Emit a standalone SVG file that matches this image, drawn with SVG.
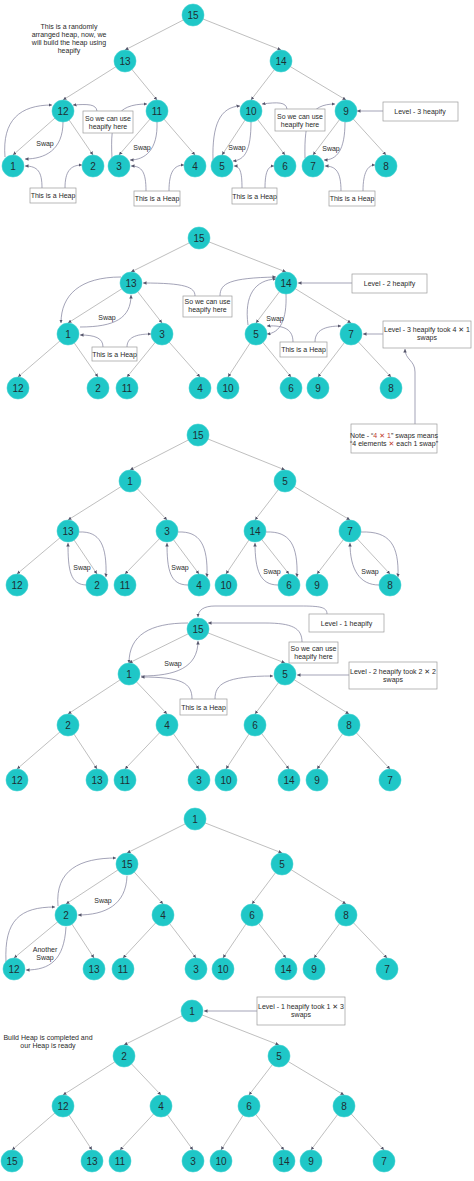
<svg xmlns="http://www.w3.org/2000/svg" width="474" height="1181" viewBox="0 0 474 1181">
<style>
.bg{fill:#fff}
.n circle{fill:#1fc7c7;stroke:#3fd2d2;stroke-width:0.6}
.n text{font-family:"Liberation Sans",Arial,sans-serif;font-size:10px;fill:#1e2f33;text-anchor:middle}
.e line{stroke:#a3a3a3;stroke-width:0.7;fill:none}
.c path{stroke:#7b7b98;stroke-width:0.7;fill:none}
.box rect{fill:#fff;stroke:#9a9a9a;stroke-width:0.7}
.t{font-family:"Liberation Sans",Arial,"DejaVu Sans",sans-serif;font-size:7px;fill:#2a2a2a;text-anchor:middle}
.red{fill:#c0392b}
</style>
<defs>
<marker id="a" viewBox="0 0 6 6" refX="6" refY="3" markerWidth="3.5" markerHeight="3.5" markerUnits="userSpaceOnUse" orient="auto"><path d="M0,0 L6,3 L0,6 z" fill="#55556a"/></marker>
</defs>
<rect class="bg" width="474" height="1181"/>
<g id="connectors">
<g class="e">
<line x1="193" y1="15" x2="125" y2="50" marker-end="url(#a)"/>
<line x1="193" y1="15" x2="281" y2="50" marker-end="url(#a)"/>
<line x1="125" y1="61" x2="63" y2="100" marker-end="url(#a)"/>
<line x1="125" y1="61" x2="157" y2="100" marker-end="url(#a)"/>
<line x1="281" y1="61" x2="251" y2="100" marker-end="url(#a)"/>
<line x1="281" y1="61" x2="346" y2="100" marker-end="url(#a)"/>
<line x1="63" y1="111" x2="13" y2="155" marker-end="url(#a)"/>
<line x1="63" y1="111" x2="93" y2="155" marker-end="url(#a)"/>
<line x1="157" y1="111" x2="119" y2="155" marker-end="url(#a)"/>
<line x1="157" y1="111" x2="195" y2="155" marker-end="url(#a)"/>
<line x1="251" y1="111" x2="222" y2="155" marker-end="url(#a)"/>
<line x1="251" y1="111" x2="285" y2="155" marker-end="url(#a)"/>
<line x1="346" y1="111" x2="313" y2="155" marker-end="url(#a)"/>
<line x1="346" y1="111" x2="386" y2="155" marker-end="url(#a)"/>
<line x1="199" y1="238" x2="131" y2="272" marker-end="url(#a)"/>
<line x1="199" y1="238" x2="286" y2="272" marker-end="url(#a)"/>
<line x1="131" y1="283" x2="68" y2="323" marker-end="url(#a)"/>
<line x1="131" y1="283" x2="162" y2="323" marker-end="url(#a)"/>
<line x1="286" y1="283" x2="256" y2="323" marker-end="url(#a)"/>
<line x1="286" y1="283" x2="351" y2="323" marker-end="url(#a)"/>
<line x1="68" y1="334" x2="18" y2="377" marker-end="url(#a)"/>
<line x1="68" y1="334" x2="98" y2="377" marker-end="url(#a)"/>
<line x1="162" y1="334" x2="127" y2="377" marker-end="url(#a)"/>
<line x1="162" y1="334" x2="200" y2="377" marker-end="url(#a)"/>
<line x1="256" y1="334" x2="228" y2="377" marker-end="url(#a)"/>
<line x1="256" y1="334" x2="291" y2="377" marker-end="url(#a)"/>
<line x1="351" y1="334" x2="318" y2="377" marker-end="url(#a)"/>
<line x1="351" y1="334" x2="391" y2="377" marker-end="url(#a)"/>
<line x1="198" y1="435" x2="130" y2="470" marker-end="url(#a)"/>
<line x1="198" y1="435" x2="285" y2="470" marker-end="url(#a)"/>
<line x1="130" y1="481" x2="68" y2="520" marker-end="url(#a)"/>
<line x1="130" y1="481" x2="167" y2="520" marker-end="url(#a)"/>
<line x1="285" y1="481" x2="255" y2="520" marker-end="url(#a)"/>
<line x1="285" y1="481" x2="350" y2="520" marker-end="url(#a)"/>
<line x1="68" y1="531" x2="17" y2="574" marker-end="url(#a)"/>
<line x1="68" y1="531" x2="97" y2="574" marker-end="url(#a)"/>
<line x1="167" y1="531" x2="125" y2="574" marker-end="url(#a)"/>
<line x1="167" y1="531" x2="199" y2="574" marker-end="url(#a)"/>
<line x1="255" y1="531" x2="226" y2="574" marker-end="url(#a)"/>
<line x1="255" y1="531" x2="289" y2="574" marker-end="url(#a)"/>
<line x1="350" y1="531" x2="317" y2="574" marker-end="url(#a)"/>
<line x1="350" y1="531" x2="390" y2="574" marker-end="url(#a)"/>
<line x1="198" y1="629" x2="129" y2="663" marker-end="url(#a)"/>
<line x1="198" y1="629" x2="285" y2="663" marker-end="url(#a)"/>
<line x1="129" y1="674" x2="68" y2="714" marker-end="url(#a)"/>
<line x1="129" y1="674" x2="167" y2="714" marker-end="url(#a)"/>
<line x1="285" y1="674" x2="255" y2="714" marker-end="url(#a)"/>
<line x1="285" y1="674" x2="349" y2="714" marker-end="url(#a)"/>
<line x1="68" y1="725" x2="17" y2="769" marker-end="url(#a)"/>
<line x1="68" y1="725" x2="97" y2="769" marker-end="url(#a)"/>
<line x1="167" y1="725" x2="125" y2="769" marker-end="url(#a)"/>
<line x1="167" y1="725" x2="199" y2="769" marker-end="url(#a)"/>
<line x1="255" y1="725" x2="226" y2="769" marker-end="url(#a)"/>
<line x1="255" y1="725" x2="289" y2="769" marker-end="url(#a)"/>
<line x1="349" y1="725" x2="317" y2="769" marker-end="url(#a)"/>
<line x1="349" y1="725" x2="390" y2="769" marker-end="url(#a)"/>
<line x1="195" y1="819" x2="127" y2="853" marker-end="url(#a)"/>
<line x1="195" y1="819" x2="282" y2="853" marker-end="url(#a)"/>
<line x1="127" y1="864" x2="66" y2="904" marker-end="url(#a)"/>
<line x1="127" y1="864" x2="163" y2="904" marker-end="url(#a)"/>
<line x1="282" y1="864" x2="252" y2="904" marker-end="url(#a)"/>
<line x1="282" y1="864" x2="346" y2="904" marker-end="url(#a)"/>
<line x1="66" y1="915" x2="14" y2="958" marker-end="url(#a)"/>
<line x1="66" y1="915" x2="94" y2="958" marker-end="url(#a)"/>
<line x1="163" y1="915" x2="123" y2="958" marker-end="url(#a)"/>
<line x1="163" y1="915" x2="196" y2="958" marker-end="url(#a)"/>
<line x1="252" y1="915" x2="223" y2="958" marker-end="url(#a)"/>
<line x1="252" y1="915" x2="286" y2="958" marker-end="url(#a)"/>
<line x1="346" y1="915" x2="314" y2="958" marker-end="url(#a)"/>
<line x1="346" y1="915" x2="387" y2="958" marker-end="url(#a)"/>
<line x1="192" y1="1011" x2="124" y2="1045" marker-end="url(#a)"/>
<line x1="192" y1="1011" x2="279" y2="1045" marker-end="url(#a)"/>
<line x1="124" y1="1056" x2="63" y2="1095" marker-end="url(#a)"/>
<line x1="124" y1="1056" x2="161" y2="1095" marker-end="url(#a)"/>
<line x1="279" y1="1056" x2="249" y2="1095" marker-end="url(#a)"/>
<line x1="279" y1="1056" x2="344" y2="1095" marker-end="url(#a)"/>
<line x1="63" y1="1106" x2="12" y2="1150" marker-end="url(#a)"/>
<line x1="63" y1="1106" x2="92" y2="1150" marker-end="url(#a)"/>
<line x1="161" y1="1106" x2="120" y2="1150" marker-end="url(#a)"/>
<line x1="161" y1="1106" x2="193" y2="1150" marker-end="url(#a)"/>
<line x1="249" y1="1106" x2="221" y2="1150" marker-end="url(#a)"/>
<line x1="249" y1="1106" x2="284" y2="1150" marker-end="url(#a)"/>
<line x1="344" y1="1106" x2="311" y2="1150" marker-end="url(#a)"/>
<line x1="344" y1="1106" x2="384" y2="1150" marker-end="url(#a)"/>
</g>
<g class="c">
<path d="M5,157 C2,120 20,105 52,105" marker-end="url(#a)"/>
<path d="M63,122 C63,150 45,159 25,159" marker-end="url(#a)"/>
<path d="M97,111 C96,104 88,104 73,105" marker-end="url(#a)"/>
<path d="M112,158 C110,120 115,104 147,104" marker-end="url(#a)"/>
<path d="M157,122 C158,150 145,160 130,160" marker-end="url(#a)"/>
<path d="M213,160 C212,125 220,107 240,106" marker-end="url(#a)"/>
<path d="M251,122 C251,150 245,160 233,161" marker-end="url(#a)"/>
<path d="M287,109 C286,102 278,102 262,104" marker-end="url(#a)"/>
<path d="M305,158 C304,120 310,104 335,104" marker-end="url(#a)"/>
<path d="M345,122 C345,150 337,160 324,160" marker-end="url(#a)"/>
<path d="M383,111 L357,111" marker-end="url(#a)"/>
<path d="M42,188 C42,172 38,166 25,166" marker-end="url(#a)"/>
<path d="M65,188 C65,172 70,165 82,165" marker-end="url(#a)"/>
<path d="M146,191 C146,172 142,166 131,166" marker-end="url(#a)"/>
<path d="M169,191 C169,172 174,165 184,165" marker-end="url(#a)"/>
<path d="M242,188 C242,172 240,166 234,166" marker-end="url(#a)"/>
<path d="M265,188 C265,172 268,166 274,166" marker-end="url(#a)"/>
<path d="M341,191 C341,172 336,166 325,166" marker-end="url(#a)"/>
<path d="M363,191 C363,172 368,165 375,165" marker-end="url(#a)"/>
<path d="M121,277 C80,277 61,295 61,323" marker-end="url(#a)"/>
<path d="M80,327 C115,327 131,318 131,295" marker-end="url(#a)"/>
<path d="M195,296 C195,287 185,283 143,283" marker-end="url(#a)"/>
<path d="M220,296 C220,283 230,278 276,277" marker-end="url(#a)"/>
<path d="M248,325 C244,295 255,280 276,279" marker-end="url(#a)"/>
<path d="M286,294 C287,320 280,333 267,334" marker-end="url(#a)"/>
<path d="M293,342 C293,330 285,325 267,326" marker-end="url(#a)"/>
<path d="M315,342 C315,330 325,326 341,326" marker-end="url(#a)"/>
<path d="M103,347 C103,338 95,335 80,335" marker-end="url(#a)"/>
<path d="M127,347 C127,338 135,334 151,334" marker-end="url(#a)"/>
<path d="M352,283 L298,283" marker-end="url(#a)"/>
<path d="M383,334 L363,334" marker-end="url(#a)"/>
<path d="M415,424 L415,372 C415,360 405,360 405,349" marker-end="url(#a)"/>
<path d="M79,532 C100,531 107,545 106,577" marker-end="url(#a)"/>
<path d="M87,585 C70,585 68,570 68,543" marker-end="url(#a)"/>
<path d="M178,532 C200,531 208,545 207,577" marker-end="url(#a)"/>
<path d="M188,585 C170,585 167,570 167,543" marker-end="url(#a)"/>
<path d="M266,532 C290,531 298,545 297,577" marker-end="url(#a)"/>
<path d="M278,585 C260,585 255,570 255,543" marker-end="url(#a)"/>
<path d="M361,532 C390,531 399,545 398,577" marker-end="url(#a)"/>
<path d="M379,585 C360,585 350,570 350,543" marker-end="url(#a)"/>
<path d="M327,614 C327,607 320,606 300,606 L215,606 C204,606 198,610 198,617" marker-end="url(#a)"/>
<path d="M302,642 C302,628 292,623 265,623 L208,623" marker-end="url(#a)"/>
<path d="M188,623 C150,623 129,635 129,663" marker-end="url(#a)"/>
<path d="M141,676 C175,676 198,668 198,641" marker-end="url(#a)"/>
<path d="M192,699 C192,683 182,677 141,677" marker-end="url(#a)"/>
<path d="M215,699 C215,684 225,676 273,676" marker-end="url(#a)"/>
<path d="M349,675 L297,675" marker-end="url(#a)"/>
<path d="M58,906 C55,870 80,858 116,858" marker-end="url(#a)"/>
<path d="M127,876 C126,905 105,915 78,915" marker-end="url(#a)"/>
<path d="M6,962 C4,920 20,907 55,907" marker-end="url(#a)"/>
<path d="M66,927 C64,960 50,970 26,970" marker-end="url(#a)"/>
<path d="M257,1011 L204,1011" marker-end="url(#a)"/>
</g>
</g>
<g id="b1" class="box"><rect x="83" y="111" width="50" height="22"/><text class="t" x="108" y="120.5">So we can use</text><text class="t" x="108" y="128.5">heapify here</text></g>
<g id="b2" class="box"><rect x="275" y="109" width="50" height="22"/><text class="t" x="300" y="118.5">So we can use</text><text class="t" x="300" y="126.5">heapify here</text></g>
<g id="b3" class="box"><rect x="383" y="102" width="75" height="19"/><text class="t" x="420" y="113.5">Level - 3 heapify</text></g>
<g id="b4" class="box"><rect x="30" y="188" width="46" height="15"/><text class="t" x="53" y="198">This is a Heap</text></g>
<g id="b5" class="box"><rect x="134" y="191" width="46" height="15"/><text class="t" x="157" y="201">This is a Heap</text></g>
<g id="b6" class="box"><rect x="232" y="188" width="45" height="16"/><text class="t" x="254.5" y="198.5">This is a Heap</text></g>
<g id="b7" class="box"><rect x="329" y="191" width="46" height="15"/><text class="t" x="352" y="201">This is a Heap</text></g>
<g id="b8" class="box"><rect x="183" y="296" width="49" height="21"/><text class="t" x="207.5" y="303.5">So we can use</text><text class="t" x="207.5" y="311.5">heapify here</text></g>
<g id="b9" class="box"><rect x="92" y="347" width="45" height="14"/><text class="t" x="114.5" y="356.5">This is a Heap</text></g>
<g id="b10" class="box"><rect x="280" y="342" width="47" height="15"/><text class="t" x="303.5" y="352">This is a Heap</text></g>
<g id="b11" class="box"><rect x="352" y="274" width="75" height="19"/><text class="t" x="389.5" y="286">Level - 2 heapify</text></g>
<g id="b12" class="box"><rect x="383" y="321" width="88" height="27"/><text class="t" x="427" y="331.5">Level - 3 heapify took 4 ✕ 1</text><text class="t" x="427" y="339.5">swaps</text></g>
<g id="b13" class="box"><rect x="351" y="424" width="86" height="29"/><text class="t" x="394" y="437.5">Note - “<tspan class="red">4 ✕ 1</tspan>” swaps means</text><text class="t" x="394" y="445.5">“4 elements <tspan class="red">✕</tspan> each 1 swap”</text></g>
<g id="b14" class="box"><rect x="309" y="614" width="75" height="18"/><text class="t" x="346.5" y="625.5">Level - 1 heapify</text></g>
<g id="b15" class="box"><rect x="289" y="642" width="49" height="21"/><text class="t" x="313.5" y="650.5">So we can use</text><text class="t" x="313.5" y="658.5">heapify here</text></g>
<g id="b16" class="box"><rect x="349" y="662" width="88" height="27"/><text class="t" x="393" y="673.5">Level - 2 heapify took 2 ✕ 2</text><text class="t" x="393" y="681.5">swaps</text></g>
<g id="b17" class="box"><rect x="180" y="699" width="47" height="16"/><text class="t" x="203.5" y="709.5">This is a Heap</text></g>
<g id="b18" class="box"><rect x="257" y="997" width="88" height="28"/><text class="t" x="301" y="1008.5">Level - 1 heapify took 1 ✕ 3</text><text class="t" x="301" y="1016.5">swaps</text></g>
<g id="note1"><text class="t" x="69" y="28.5">This is a randomly</text><text class="t" x="69" y="36.5">arranged heap, now, we</text><text class="t" x="69" y="44.5">will build the heap using</text><text class="t" x="69" y="53">heapify</text></g>
<g id="swaps">
<text class="t" x="45" y="145.5">Swap</text>
<text class="t" x="142" y="149.5">Swap</text>
<text class="t" x="237" y="149.5">Swap</text>
<text class="t" x="331" y="150.5">Swap</text>
<text class="t" x="107" y="319.5">Swap</text>
<text class="t" x="275" y="320.5">Swap</text>
<text class="t" x="82" y="569.5">Swap</text>
<text class="t" x="180" y="569.5">Swap</text>
<text class="t" x="272" y="573.5">Swap</text>
<text class="t" x="370" y="573.5">Swap</text>
<text class="t" x="173" y="665.5">Swap</text>
<text class="t" x="103" y="902.5">Swap</text>
<text class="t" x="45" y="951.5">Another</text>
<text class="t" x="45" y="959.5">Swap</text>
</g>
<g id="note6"><text class="t" x="48" y="1039.5">Build Heap is completed and</text><text class="t" x="48" y="1048">our Heap is ready</text></g>
<g id="s1-15" class="n"><circle cx="193" cy="15" r="11"/><text x="193" y="18.5">15</text></g>
<g id="s1-13" class="n"><circle cx="125" cy="61" r="11"/><text x="125" y="64.5">13</text></g>
<g id="s1-14" class="n"><circle cx="281" cy="61" r="11"/><text x="281" y="64.5">14</text></g>
<g id="s1-12" class="n"><circle cx="63" cy="111" r="11"/><text x="63" y="114.5">12</text></g>
<g id="s1-11" class="n"><circle cx="157" cy="111" r="11"/><text x="157" y="114.5">11</text></g>
<g id="s1-10" class="n"><circle cx="251" cy="111" r="11"/><text x="251" y="114.5">10</text></g>
<g id="s1-9" class="n"><circle cx="346" cy="111" r="11"/><text x="346" y="114.5">9</text></g>
<g id="s1-1" class="n"><circle cx="13" cy="166" r="11"/><text x="13" y="169.5">1</text></g>
<g id="s1-2" class="n"><circle cx="93" cy="166" r="11"/><text x="93" y="169.5">2</text></g>
<g id="s1-3" class="n"><circle cx="119" cy="166" r="11"/><text x="119" y="169.5">3</text></g>
<g id="s1-4" class="n"><circle cx="195" cy="166" r="11"/><text x="195" y="169.5">4</text></g>
<g id="s1-5" class="n"><circle cx="222" cy="166" r="11"/><text x="222" y="169.5">5</text></g>
<g id="s1-6" class="n"><circle cx="285" cy="166" r="11"/><text x="285" y="169.5">6</text></g>
<g id="s1-7" class="n"><circle cx="313" cy="166" r="11"/><text x="313" y="169.5">7</text></g>
<g id="s1-8" class="n"><circle cx="386" cy="166" r="11"/><text x="386" y="169.5">8</text></g>
<g id="s2-15" class="n"><circle cx="199" cy="238" r="11"/><text x="199" y="241.5">15</text></g>
<g id="s2-13" class="n"><circle cx="131" cy="283" r="11"/><text x="131" y="286.5">13</text></g>
<g id="s2-14" class="n"><circle cx="286" cy="283" r="11"/><text x="286" y="286.5">14</text></g>
<g id="s2-1" class="n"><circle cx="68" cy="334" r="11"/><text x="68" y="337.5">1</text></g>
<g id="s2-3" class="n"><circle cx="162" cy="334" r="11"/><text x="162" y="337.5">3</text></g>
<g id="s2-5" class="n"><circle cx="256" cy="334" r="11"/><text x="256" y="337.5">5</text></g>
<g id="s2-7" class="n"><circle cx="351" cy="334" r="11"/><text x="351" y="337.5">7</text></g>
<g id="s2-12" class="n"><circle cx="18" cy="388" r="11"/><text x="18" y="391.5">12</text></g>
<g id="s2-2" class="n"><circle cx="98" cy="388" r="11"/><text x="98" y="391.5">2</text></g>
<g id="s2-11" class="n"><circle cx="127" cy="388" r="11"/><text x="127" y="391.5">11</text></g>
<g id="s2-4" class="n"><circle cx="200" cy="388" r="11"/><text x="200" y="391.5">4</text></g>
<g id="s2-10" class="n"><circle cx="228" cy="388" r="11"/><text x="228" y="391.5">10</text></g>
<g id="s2-6" class="n"><circle cx="291" cy="388" r="11"/><text x="291" y="391.5">6</text></g>
<g id="s2-9" class="n"><circle cx="318" cy="388" r="11"/><text x="318" y="391.5">9</text></g>
<g id="s2-8" class="n"><circle cx="391" cy="388" r="11"/><text x="391" y="391.5">8</text></g>
<g id="s3-15" class="n"><circle cx="198" cy="435" r="11"/><text x="198" y="438.5">15</text></g>
<g id="s3-1" class="n"><circle cx="130" cy="481" r="11"/><text x="130" y="484.5">1</text></g>
<g id="s3-5" class="n"><circle cx="285" cy="481" r="11"/><text x="285" y="484.5">5</text></g>
<g id="s3-13" class="n"><circle cx="68" cy="531" r="11"/><text x="68" y="534.5">13</text></g>
<g id="s3-3" class="n"><circle cx="167" cy="531" r="11"/><text x="167" y="534.5">3</text></g>
<g id="s3-14" class="n"><circle cx="255" cy="531" r="11"/><text x="255" y="534.5">14</text></g>
<g id="s3-7" class="n"><circle cx="350" cy="531" r="11"/><text x="350" y="534.5">7</text></g>
<g id="s3-12" class="n"><circle cx="17" cy="585" r="11"/><text x="17" y="588.5">12</text></g>
<g id="s3-2" class="n"><circle cx="97" cy="585" r="11"/><text x="97" y="588.5">2</text></g>
<g id="s3-11" class="n"><circle cx="125" cy="585" r="11"/><text x="125" y="588.5">11</text></g>
<g id="s3-4" class="n"><circle cx="199" cy="585" r="11"/><text x="199" y="588.5">4</text></g>
<g id="s3-10" class="n"><circle cx="226" cy="585" r="11"/><text x="226" y="588.5">10</text></g>
<g id="s3-6" class="n"><circle cx="289" cy="585" r="11"/><text x="289" y="588.5">6</text></g>
<g id="s3-9" class="n"><circle cx="317" cy="585" r="11"/><text x="317" y="588.5">9</text></g>
<g id="s3-8" class="n"><circle cx="390" cy="585" r="11"/><text x="390" y="588.5">8</text></g>
<g id="s4-15" class="n"><circle cx="198" cy="629" r="11"/><text x="198" y="632.5">15</text></g>
<g id="s4-1" class="n"><circle cx="129" cy="674" r="11"/><text x="129" y="677.5">1</text></g>
<g id="s4-5" class="n"><circle cx="285" cy="674" r="11"/><text x="285" y="677.5">5</text></g>
<g id="s4-2" class="n"><circle cx="68" cy="725" r="11"/><text x="68" y="728.5">2</text></g>
<g id="s4-4" class="n"><circle cx="167" cy="725" r="11"/><text x="167" y="728.5">4</text></g>
<g id="s4-6" class="n"><circle cx="255" cy="725" r="11"/><text x="255" y="728.5">6</text></g>
<g id="s4-8" class="n"><circle cx="349" cy="725" r="11"/><text x="349" y="728.5">8</text></g>
<g id="s4-12" class="n"><circle cx="17" cy="780" r="11"/><text x="17" y="783.5">12</text></g>
<g id="s4-13" class="n"><circle cx="97" cy="780" r="11"/><text x="97" y="783.5">13</text></g>
<g id="s4-11" class="n"><circle cx="125" cy="780" r="11"/><text x="125" y="783.5">11</text></g>
<g id="s4-3" class="n"><circle cx="199" cy="780" r="11"/><text x="199" y="783.5">3</text></g>
<g id="s4-10" class="n"><circle cx="226" cy="780" r="11"/><text x="226" y="783.5">10</text></g>
<g id="s4-14" class="n"><circle cx="289" cy="780" r="11"/><text x="289" y="783.5">14</text></g>
<g id="s4-9" class="n"><circle cx="317" cy="780" r="11"/><text x="317" y="783.5">9</text></g>
<g id="s4-7" class="n"><circle cx="390" cy="780" r="11"/><text x="390" y="783.5">7</text></g>
<g id="s5-1" class="n"><circle cx="195" cy="819" r="11"/><text x="195" y="822.5">1</text></g>
<g id="s5-15" class="n"><circle cx="127" cy="864" r="11"/><text x="127" y="867.5">15</text></g>
<g id="s5-5" class="n"><circle cx="282" cy="864" r="11"/><text x="282" y="867.5">5</text></g>
<g id="s5-2" class="n"><circle cx="66" cy="915" r="11"/><text x="66" y="918.5">2</text></g>
<g id="s5-4" class="n"><circle cx="163" cy="915" r="11"/><text x="163" y="918.5">4</text></g>
<g id="s5-6" class="n"><circle cx="252" cy="915" r="11"/><text x="252" y="918.5">6</text></g>
<g id="s5-8" class="n"><circle cx="346" cy="915" r="11"/><text x="346" y="918.5">8</text></g>
<g id="s5-12" class="n"><circle cx="14" cy="969" r="11"/><text x="14" y="972.5">12</text></g>
<g id="s5-13" class="n"><circle cx="94" cy="969" r="11"/><text x="94" y="972.5">13</text></g>
<g id="s5-11" class="n"><circle cx="123" cy="969" r="11"/><text x="123" y="972.5">11</text></g>
<g id="s5-3" class="n"><circle cx="196" cy="969" r="11"/><text x="196" y="972.5">3</text></g>
<g id="s5-10" class="n"><circle cx="223" cy="969" r="11"/><text x="223" y="972.5">10</text></g>
<g id="s5-14" class="n"><circle cx="286" cy="969" r="11"/><text x="286" y="972.5">14</text></g>
<g id="s5-9" class="n"><circle cx="314" cy="969" r="11"/><text x="314" y="972.5">9</text></g>
<g id="s5-7" class="n"><circle cx="387" cy="969" r="11"/><text x="387" y="972.5">7</text></g>
<g id="s6-1" class="n"><circle cx="192" cy="1011" r="11"/><text x="192" y="1014.5">1</text></g>
<g id="s6-2" class="n"><circle cx="124" cy="1056" r="11"/><text x="124" y="1059.5">2</text></g>
<g id="s6-5" class="n"><circle cx="279" cy="1056" r="11"/><text x="279" y="1059.5">5</text></g>
<g id="s6-12" class="n"><circle cx="63" cy="1106" r="11"/><text x="63" y="1109.5">12</text></g>
<g id="s6-4" class="n"><circle cx="161" cy="1106" r="11"/><text x="161" y="1109.5">4</text></g>
<g id="s6-6" class="n"><circle cx="249" cy="1106" r="11"/><text x="249" y="1109.5">6</text></g>
<g id="s6-8" class="n"><circle cx="344" cy="1106" r="11"/><text x="344" y="1109.5">8</text></g>
<g id="s6-15" class="n"><circle cx="12" cy="1161" r="11"/><text x="12" y="1164.5">15</text></g>
<g id="s6-13" class="n"><circle cx="92" cy="1161" r="11"/><text x="92" y="1164.5">13</text></g>
<g id="s6-11" class="n"><circle cx="120" cy="1161" r="11"/><text x="120" y="1164.5">11</text></g>
<g id="s6-3" class="n"><circle cx="193" cy="1161" r="11"/><text x="193" y="1164.5">3</text></g>
<g id="s6-10" class="n"><circle cx="221" cy="1161" r="11"/><text x="221" y="1164.5">10</text></g>
<g id="s6-14" class="n"><circle cx="284" cy="1161" r="11"/><text x="284" y="1164.5">14</text></g>
<g id="s6-9" class="n"><circle cx="311" cy="1161" r="11"/><text x="311" y="1164.5">9</text></g>
<g id="s6-7" class="n"><circle cx="384" cy="1161" r="11"/><text x="384" y="1164.5">7</text></g>
</svg>
